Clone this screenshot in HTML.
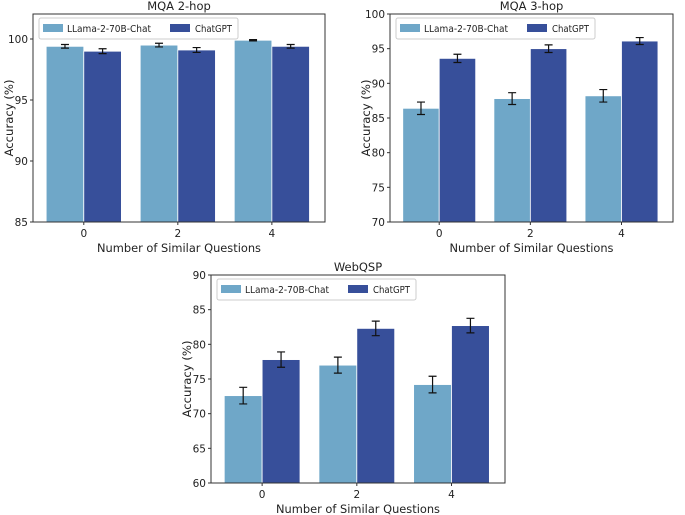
<!DOCTYPE html>
<html><head><meta charset="utf-8"><style>
body{margin:0;background:#fff;}
svg{display:block;font-family:"DejaVu Sans","Liberation Sans",sans-serif;}
</style></head><body>
<svg id="fig" width="685" height="515"></svg>
<script>
const categories=[0,2,4];
const seriesNames=["LLama-2-70B-Chat","ChatGPT"];
const hop2Llama=[99.4,99.5,99.9];
const hop2LlamaErr=[0.15,0.15,0.05];
const hop2Gpt=[99.0,99.1,99.4];
const hop2GptErr=[0.2,0.2,0.15];
const hop3Llama=[86.4,87.8,88.2];
const hop3LlamaErr=[0.9,0.85,0.9];
const hop3Gpt=[93.6,95.0,96.1];
const hop3GptErr=[0.6,0.55,0.5];
const webLlama=[72.6,77.0,74.2];
const webLlamaErr=[1.2,1.15,1.2];
const webGpt=[77.8,82.3,82.7];
const webGptErr=[1.1,1.05,1.05];
const hop2Ticks=[85,90,95,100];
const hop3Ticks=[70,75,80,85,90,95,100];
const webTicks=[60,65,70,75,80,85,90];

const NS="http://www.w3.org/2000/svg";
const svg=document.getElementById('fig');
const colors=["#6fa7c8","#374f9a"];
function mk(tag,attrs,parent){const e=document.createElementNS(NS,tag);for(const k in attrs)e.setAttribute(k,attrs[k]);(parent||svg).appendChild(e);return e;}
function txt(s,attrs,parent){const e=mk('text',attrs,parent);e.textContent=s;return e;}

function chart(id,title,L,R,T,B,ymin,ymax,ticks,a,ae,b,be){
  const g=mk('g',{});
  
  
  const xmin=-1.08,xmax=5.13;
  const X=v=>L+(v-xmin)/(xmax-xmin)*(R-L);
  const Y=v=>B-(v-ymin)/(ymax-ymin)*(B-T);
  const bw=X(0.8)-X(0);
  [a,b].forEach((vals,si)=>{
    const errs=si?be:ae;
    categories.forEach((c,i)=>{
      const cx=c+(si?0.4:-0.4);
      const r=mk('rect',{x:X(cx)-bw/2,y:Y(vals[i]),width:bw,height:B-Y(vals[i]),fill:colors[si],stroke:'#fff','stroke-width':0.8},g);
      
      
      const e1=Y(vals[i]+errs[i]),e2=Y(vals[i]-errs[i]),ex=X(cx);
      const eb=mk('path',{d:`M${ex},${e1}V${e2}M${ex-4},${e1}H${ex+4}M${ex-4},${e2}H${ex+4}`,stroke:'#111','stroke-width':1.2,fill:'none'},g);
      
      
    });
  });
  mk('rect',{x:L,y:T,width:R-L,height:B-T,fill:'none',stroke:'#333','stroke-width':1},g);
  ticks.forEach(t=>{const y=Y(t);mk('line',{x1:L-3,x2:L,y1:y,y2:y,stroke:'#333'},g);
    const tl=txt(t,{x:L-5,y:y+4,'text-anchor':'end','font-size':10.5,fill:'#222'},g);
    });
  categories.forEach(c=>{const x=X(c);mk('line',{x1:x,x2:x,y1:B,y2:B+3,stroke:'#333'},g);
    const tl=txt(c,{x:x,y:B+15,'text-anchor':'middle','font-size':10.5,fill:'#222'},g);
    });
  const tt=txt(title,{x:(L+R)/2,y:T-4,'text-anchor':'middle','font-size':11.5,fill:'#222'},g);
  
  const xt=txt('Number of Similar Questions',{x:(L+R)/2,y:B+30,'text-anchor':'middle','font-size':11.5,fill:'#222',textLength:164,lengthAdjust:'spacingAndGlyphs'},g);
  
  const yc=(T+B)/2, yx=L-20;
  const yt=txt('Accuracy (%)',{x:yx,y:yc,'text-anchor':'middle','font-size':11.5,fill:'#222',textLength:77,lengthAdjust:'spacingAndGlyphs',transform:`rotate(-90 ${yx} ${yc})`},g);
  
  const lg=mk('g',{},g);
  
  
  mk('rect',{x:L+6,y:T+4,width:199,height:21,rx:2,fill:'#fff',stroke:'#ccc','fill-opacity':0.85},lg);
  mk('rect',{x:L+10,y:T+10,width:20,height:8,fill:colors[0]},lg);
  txt(seriesNames[0],{x:L+34,y:T+18,'font-size':10,fill:'#222',textLength:84,lengthAdjust:'spacingAndGlyphs'},lg);
  mk('rect',{x:L+137,y:T+10,width:20,height:8,fill:colors[1]},lg);
  txt(seriesNames[1],{x:L+162,y:T+18,'font-size':10,fill:'#222',textLength:37,lengthAdjust:'spacingAndGlyphs'},lg);
}
chart('mqa-2hop-chart','MQA 2-hop',33,325,14,222,85,102.05,hop2Ticks,hop2Llama,hop2LlamaErr,hop2Gpt,hop2GptErr);
chart('mqa-3hop-chart','MQA 3-hop',390,673,14,222,70,100,hop3Ticks,hop3Llama,hop3LlamaErr,hop3Gpt,hop3GptErr);
chart('webqsp-chart','WebQSP',211,505,275,483,60,90,webTicks,webLlama,webLlamaErr,webGpt,webGptErr);
</script>
</body></html>
